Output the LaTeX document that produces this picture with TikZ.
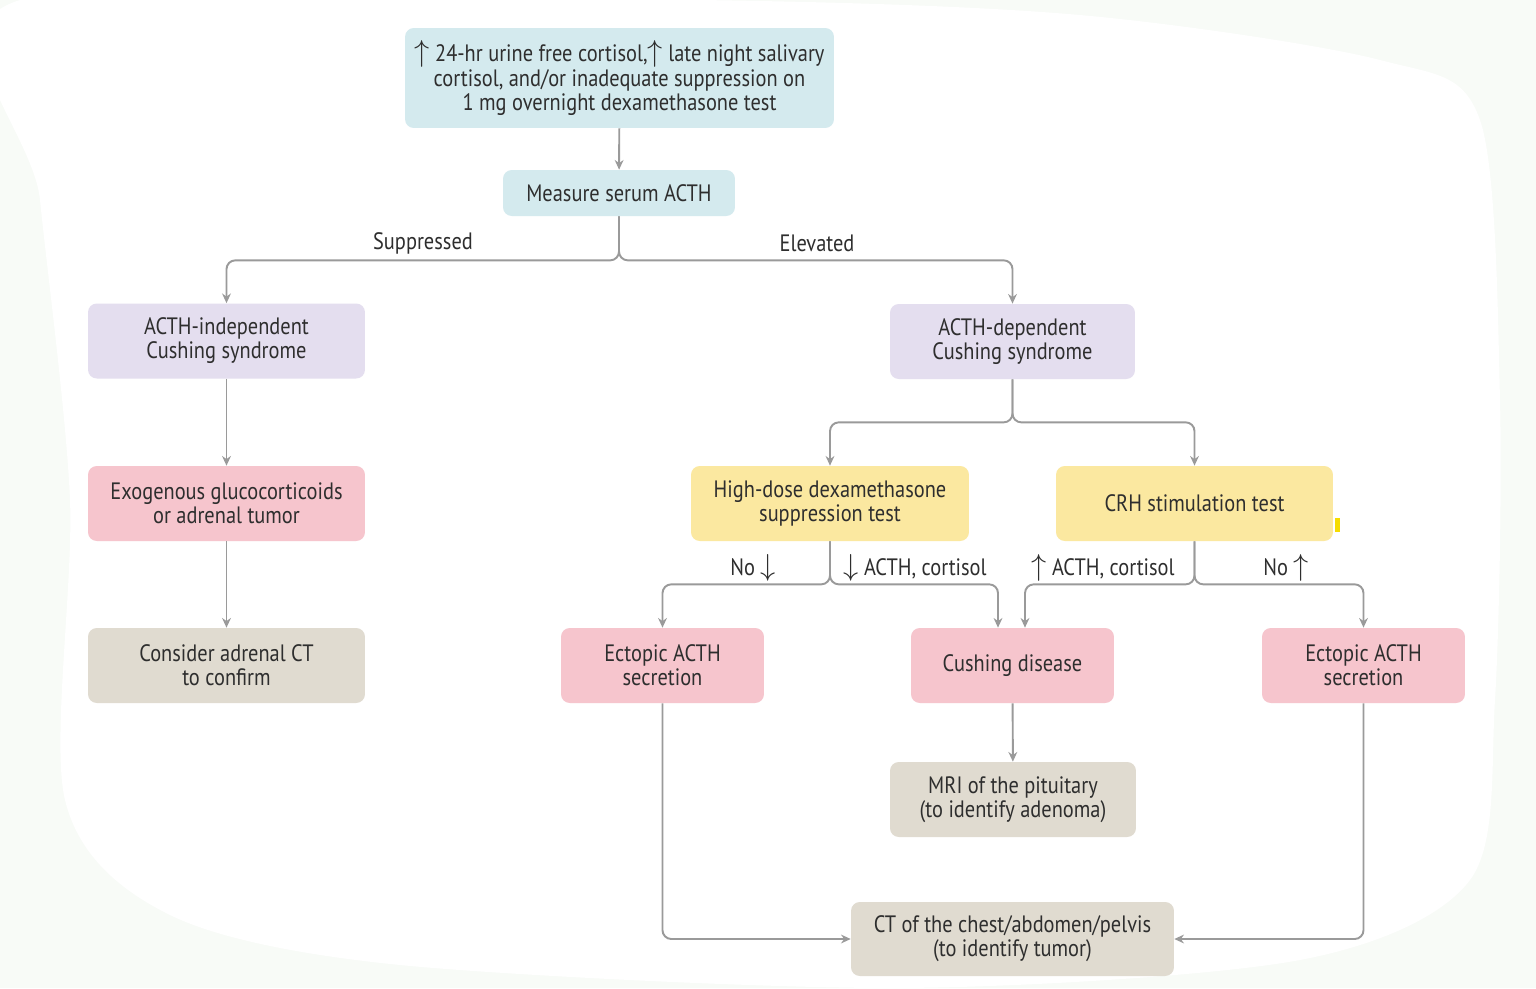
\documentclass[tikz,border=0pt]{standalone}
\usepackage{fontspec}
\setmainfont{PT Sans}[FakeStretch=0.86]
\usepackage{xcolor}
\usepackage{tikz}
\usetikzlibrary{arrows.meta, positioning}

\definecolor{bgwash}{HTML}{F8FBF7}
\definecolor{boxblue}{HTML}{D4EAEE}
\definecolor{boxlilac}{HTML}{E4DEEF}
\definecolor{boxpink}{HTML}{F6C5CD}
\definecolor{boxsand}{HTML}{E0DBD0}
\definecolor{boxyellow}{HTML}{FBE8A0}
\definecolor{markyellow}{HTML}{F5DC00}
\definecolor{linegray}{HTML}{9A9A9A}
\definecolor{textgray}{HTML}{2E2E2E}

\newcommand{\uparr}{{\fontsize{17}{17}\selectfont$\uparrow$}}
\newcommand{\downarr}{{\fontsize{17}{17}\selectfont$\downarrow$}}

\tikzset{
  box/.style={rounded corners=5pt, align=center, text=textgray, inner sep=0pt,
    font=\fontsize{13.5}{13.7}\selectfont},
  lab/.style={text=textgray, inner sep=0pt, font=\fontsize{13.5}{13.7}\selectfont},
  conn/.style={draw=linegray, line width=1.1pt, rounded corners=5pt},
  arr/.style={conn, -{Stealth[length=5.5pt, width=5pt]}},
}

\begin{document}
\begin{tikzpicture}[x=0.02cm, y=-0.02cm]
    \useasboundingbox (0,0) rectangle (1536,988);
    % 背景
    \fill[bgwash] (0,0) rectangle (1536,988);
    \fill[white] plot[smooth cycle, tension=0.5] coordinates {(20,0) (700,0) (1080,15) (1380,60) (1480,120) (1500,400) (1495,700) (1470,880) (1300,960) (900,988) (400,965) (170,915) (65,800) (70,500) (40,200)};

    % 第一层
    \node[box, fill=boxblue, minimum width=8.58cm, minimum height=2cm] (screen) at (619.5,78)
        {\uparr\ 24-hr urine free cortisol,\uparr\ late night salivary\\cortisol, and/or inadequate suppression on\\1 mg overnight dexamethasone test};
    \node[box, fill=boxblue, minimum width=4.64cm, minimum height=0.92cm] (measure) at (619,193) {Measure serum ACTH};

    % 第二层
    \node[box, fill=boxlilac, minimum width=5.54cm, minimum height=1.5cm] (indep) at (226.5,341) {ACTH-independent\\Cushing syndrome};
    \node[box, fill=boxlilac, minimum width=4.9cm, minimum height=1.5cm] (dep) at (1012.5,341.5) {ACTH-dependent\\Cushing syndrome};

    % 左侧
    \node[box, fill=boxpink, minimum width=5.54cm, minimum height=1.5cm] (exo) at (226.5,503.5) {Exogenous glucocorticoids\\or adrenal tumor};
    \node[box, fill=boxsand, minimum width=5.54cm, minimum height=1.5cm] (adrct) at (226.5,665.5) {Consider adrenal CT\\to confirm};

    % 右侧检查
    \node[box, fill=boxyellow, minimum width=5.56cm, minimum height=1.5cm] (hdd) at (830,503.5) {High-dose dexamethasone\\suppression test};
    \node[box, fill=boxyellow, minimum width=5.54cm, minimum height=1.5cm] (crh) at (1194.5,503.5) {CRH stimulation test};
    \fill[markyellow] (1335,518) rectangle (1340,532);

    % 结果
    \node[box, fill=boxpink, minimum width=4.06cm, minimum height=1.5cm] (ectl) at (662.5,665.5) {Ectopic ACTH\\secretion};
    \node[box, fill=boxpink, minimum width=4.06cm, minimum height=1.5cm] (cush) at (1012.5,665.5) {Cushing disease};
    \node[box, fill=boxpink, minimum width=4.06cm, minimum height=1.5cm] (ectr) at (1363.5,665.5) {Ectopic ACTH\\secretion};
    \node[box, fill=boxsand, minimum width=4.92cm, minimum height=1.5cm] (mri) at (1013,799.5) {MRI of the pituitary\\(to identify adenoma)};
    \node[box, fill=boxsand, minimum width=6.46cm, minimum height=1.48cm] (ctcap) at (1012.5,939) {CT of the chest/abdomen/pelvis\\(to identify tumor)};

    % 分支标签
    \node[lab] (supp) at (423,243) {Suppressed};
    \node[lab] (elev) at (817,243) {Elevated};
    \node[lab] (hddno) at (753,568) {No \downarr};
    \node[lab] (hddyes) at (915,568) {\downarr\ ACTH, cortisol};
    \node[lab] (crhyes) at (1103,568) {\uparr\ ACTH, cortisol};
    \node[lab] (crhno) at (1286,568) {No \uparr};

    % 连线
    \draw[arr] (screen) -- (measure);
    \draw[arr] (measure.south) -- ++(0,44) -| (indep.north);
    \draw[arr] (measure.south) -- ++(0,44) -| (dep.north);
    \draw[arr] (indep) -- (exo);
    \draw[arr] (exo) -- (adrct);
    \draw[arr] (dep.south) -- ++(0,43) -| (hdd.north);
    \draw[arr] (dep.south) -- ++(0,43) -| (crh.north);
    \draw[arr] (hdd.south) -- ++(0,43) -| (ectl.north);
    \draw[arr] (hdd.south) -- ++(0,43) -| ([xshift=-0.29cm]cush.north);
    \draw[arr] (crh.south) -- ++(0,43) -| ([xshift=0.25cm]cush.north);
    \draw[arr] (crh.south) -- ++(0,43) -| (ectr.north);
    \draw[arr] (cush) -- (mri);
    \draw[arr] (ectl.south) |- (ctcap.west);
    \draw[arr] (ectr.south) |- (ctcap.east);
\end{tikzpicture}
\end{document}
